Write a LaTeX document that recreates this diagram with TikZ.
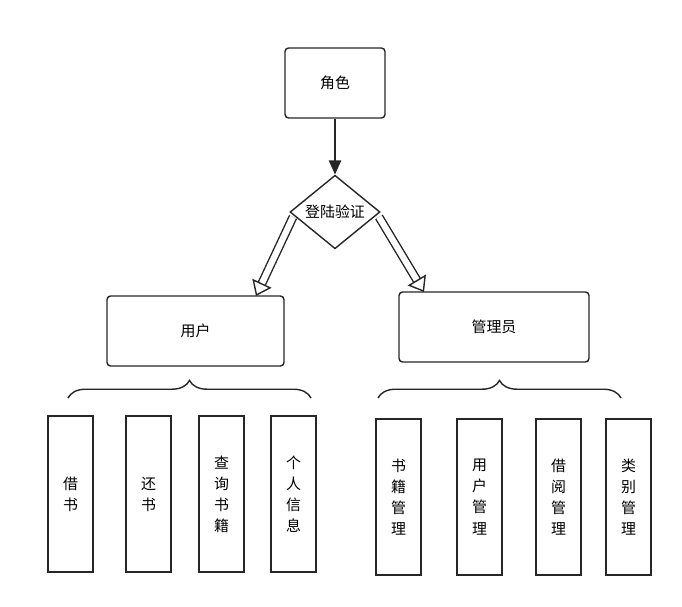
\documentclass[tikz,border=0pt]{standalone}
\usepackage{fontspec}
\setmainfont{Noto Sans CJK SC}
\usetikzlibrary{arrows.meta, shapes.geometric, decorations.pathreplacing}
\tikzset{
  box/.style={draw=black!85, thick, rounded corners=2pt, minimum width=#1},
  tallbox/.style={draw=black!85, thick, minimum width=0.9cm, minimum height=3.12cm, align=center, font=\fontsize{8.5}{12}\selectfont},
  hollow/.style={draw=black!85, double=white, double distance=3.5pt, thick,
    -{Triangle[open, width=12pt, length=8pt]}},
  curly/.style={draw=black!85, thick, decorate, decoration={brace, amplitude=10pt}},
}
\begin{document}
\begin{tikzpicture}[x=0.02cm, y=-0.02cm, font=\fontsize{8.5}{10}\selectfont]
  \useasboundingbox (0,0) rectangle (682,607);
  %top of the tree
  \node[box, minimum width=2cm, minimum height=1.4cm] (role) at (335,83) {角色};
  \node[diamond, draw=black!85, thick, minimum width=1.8cm, minimum height=1.4cm, inner sep=0pt] (login) at (335,212) {登陆验证};
  \draw[draw=black!85, thick, -{Triangle[width=7pt, length=8pt]}] (role) -- (login);
  %two roles
  \node[box, minimum width=3.54cm, minimum height=1.4cm] (user) at (195.5,331) {用户};
  \node[box, minimum width=3.8cm, minimum height=1.4cm] (admin) at (494,327) {管理员};
  \coordinate (ls) at (293,217);
  \coordinate (le) at (256,296);
  \coordinate (rs) at (379,217);
  \coordinate (re) at (424,292);
  \draw[hollow] (ls) -- (le);
  \draw[hollow] (rs) -- (re);
  %braces
  \coordinate (ua) at (68,398);
  \coordinate (ub) at (311,398);
  \coordinate (aa) at (378,398);
  \coordinate (ab) at (621,398);
  \draw[curly] (ua) -- (ub);
  \draw[curly] (aa) -- (ab);
  %functions
  \node[tallbox] (f1) at (70.5,494) {借\\书};
  \node[tallbox] (f2) at (148.5,494) {还\\书};
  \node[tallbox] (f3) at (221.5,494) {查\\询\\书\\籍};
  \node[tallbox] (f4) at (293.5,494) {个\\人\\信\\息};
  \node[tallbox] (g1) at (398.5,497) {书\\籍\\管\\理};
  \node[tallbox] (g2) at (479.5,497) {用\\户\\管\\理};
  \node[tallbox] (g3) at (558.5,497) {借\\阅\\管\\理};
  \node[tallbox] (g4) at (628.5,497) {类\\别\\管\\理};
\end{tikzpicture}
\end{document}
